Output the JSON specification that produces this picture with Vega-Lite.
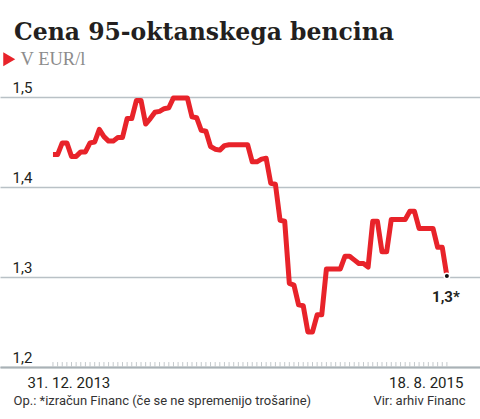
{
  "$schema": "https://vega.github.io/schema/vega-lite/v6.json",
  "width": 480,
  "height": 270,
  "autosize": {"type": "none"},
  "padding": {"left": 0, "top": 97, "right": 0, "bottom": 52},
  "background": "white",
  "title": {
    "text": "Cena 95-oktanskega bencina",
    "anchor": "start",
    "frame": "group",
    "baseline": "alphabetic",
    "offset": -13,
    "dx": 14,
    "font": "DejaVu Serif",
    "fontSize": 23.5,
    "fontWeight": "bold",
    "color": "#231f20"
  },
  "config": {
    "view": {"stroke": null},
    "legend": {"labelFont": "Liberation Serif", "labelFontSize": 18.5, "labelColor": "#8c8c8c", "labelLimit": 200}
  },
  "data": {
    "values": [
      {"date": "2013-12-31", "price": 1.436},
      {"date": "2014-01-07", "price": 1.436},
      {"date": "2014-01-14", "price": 1.449},
      {"date": "2014-01-21", "price": 1.449},
      {"date": "2014-01-28", "price": 1.434},
      {"date": "2014-02-04", "price": 1.434},
      {"date": "2014-02-11", "price": 1.439},
      {"date": "2014-02-18", "price": 1.439},
      {"date": "2014-02-25", "price": 1.449},
      {"date": "2014-03-04", "price": 1.45},
      {"date": "2014-03-11", "price": 1.464},
      {"date": "2014-03-18", "price": 1.456},
      {"date": "2014-03-25", "price": 1.451},
      {"date": "2014-04-01", "price": 1.451},
      {"date": "2014-04-08", "price": 1.455},
      {"date": "2014-04-15", "price": 1.455},
      {"date": "2014-04-22", "price": 1.476},
      {"date": "2014-04-29", "price": 1.476},
      {"date": "2014-05-06", "price": 1.496},
      {"date": "2014-05-13", "price": 1.496},
      {"date": "2014-05-20", "price": 1.47},
      {"date": "2014-05-27", "price": 1.476},
      {"date": "2014-06-03", "price": 1.483},
      {"date": "2014-06-10", "price": 1.484},
      {"date": "2014-06-17", "price": 1.487},
      {"date": "2014-06-24", "price": 1.488},
      {"date": "2014-07-01", "price": 1.499},
      {"date": "2014-07-08", "price": 1.499},
      {"date": "2014-07-15", "price": 1.499},
      {"date": "2014-07-22", "price": 1.499},
      {"date": "2014-07-29", "price": 1.478},
      {"date": "2014-08-05", "price": 1.477},
      {"date": "2014-08-12", "price": 1.463},
      {"date": "2014-08-19", "price": 1.462},
      {"date": "2014-08-26", "price": 1.445},
      {"date": "2014-09-02", "price": 1.442},
      {"date": "2014-09-09", "price": 1.441},
      {"date": "2014-09-16", "price": 1.446},
      {"date": "2014-09-23", "price": 1.447},
      {"date": "2014-09-30", "price": 1.447},
      {"date": "2014-10-07", "price": 1.447},
      {"date": "2014-10-14", "price": 1.447},
      {"date": "2014-10-21", "price": 1.447},
      {"date": "2014-10-28", "price": 1.428},
      {"date": "2014-11-04", "price": 1.428},
      {"date": "2014-11-11", "price": 1.431},
      {"date": "2014-11-18", "price": 1.432},
      {"date": "2014-11-25", "price": 1.404},
      {"date": "2014-12-02", "price": 1.403},
      {"date": "2014-12-09", "price": 1.363},
      {"date": "2014-12-16", "price": 1.362},
      {"date": "2014-12-23", "price": 1.293},
      {"date": "2014-12-30", "price": 1.291},
      {"date": "2015-01-06", "price": 1.269},
      {"date": "2015-01-13", "price": 1.268},
      {"date": "2015-01-20", "price": 1.239},
      {"date": "2015-01-27", "price": 1.239},
      {"date": "2015-02-03", "price": 1.258},
      {"date": "2015-02-10", "price": 1.258},
      {"date": "2015-02-17", "price": 1.309},
      {"date": "2015-02-24", "price": 1.309},
      {"date": "2015-03-03", "price": 1.309},
      {"date": "2015-03-10", "price": 1.309},
      {"date": "2015-03-17", "price": 1.323},
      {"date": "2015-03-24", "price": 1.323},
      {"date": "2015-03-31", "price": 1.319},
      {"date": "2015-04-07", "price": 1.315},
      {"date": "2015-04-14", "price": 1.315},
      {"date": "2015-04-21", "price": 1.311},
      {"date": "2015-04-28", "price": 1.362},
      {"date": "2015-05-05", "price": 1.362},
      {"date": "2015-05-12", "price": 1.328},
      {"date": "2015-05-19", "price": 1.328},
      {"date": "2015-05-26", "price": 1.364},
      {"date": "2015-06-02", "price": 1.364},
      {"date": "2015-06-09", "price": 1.364},
      {"date": "2015-06-16", "price": 1.364},
      {"date": "2015-06-23", "price": 1.373},
      {"date": "2015-06-30", "price": 1.373},
      {"date": "2015-07-07", "price": 1.354},
      {"date": "2015-07-14", "price": 1.354},
      {"date": "2015-07-21", "price": 1.354},
      {"date": "2015-07-28", "price": 1.354},
      {"date": "2015-08-04", "price": 1.333},
      {"date": "2015-08-11", "price": 1.333},
      {"date": "2015-08-18", "price": 1.301}
    ]
  },
  "layer": [
    {
      "mark": {"type": "rule", "color": "#c4c9cc", "strokeWidth": 1},
      "encoding": {
        "x": {"field": "date", "type": "temporal"},
        "y": {"datum": 1.2},
        "y2": {"datum": 1.2055}
      }
    },
    {
      "mark": {"type": "line", "strokeWidth": 5, "strokeJoin": "round"},
      "encoding": {
        "x": {
          "field": "date",
          "type": "temporal",
          "scale": {
            "type": "utc",
            "domain": [
              {"year": 2013, "month": 10, "date": 12, "utc": true},
              {"year": 2015, "month": 10, "date": 7, "utc": true}
            ]
          },
          "axis": {
            "values": [
              {"year": 2013, "month": 12, "date": 31, "utc": true},
              {"year": 2015, "month": 8, "date": 18, "utc": true}
            ],
            "format": "%-d. %-m. %Y",
            "grid": false,
            "ticks": false,
            "tickSize": 0,
            "domain": true,
            "domainColor": "#a9b1b6",
            "domainWidth": 2,
            "labelFont": "Roboto",
            "labelFontSize": 15,
            "labelColor": "#231f20",
            "labelBaseline": "alphabetic",
            "labelPadding": 20,
            "labelFlush": false,
            "labelOverlap": false,
            "labelAlign": {"condition": {"test": "datum.value < 1420070400000", "value": "left"}, "value": "right"},
            "labelOffset": {"condition": {"test": "datum.value < 1420070400000", "value": -26}, "value": 16},
            "title": "Op.: *izračun Financ (če se ne spremenijo trošarine)",
            "titleX": 13,
            "titleY": 37,
            "titleAlign": "left",
            "titleAnchor": "start",
            "titleBaseline": "alphabetic",
            "titleFont": "Roboto",
            "titleFontSize": 13,
            "titleFontWeight": "normal",
            "titleColor": "#333333"
          }
        },
        "y": {
          "field": "price",
          "type": "quantitative",
          "scale": {"domain": [1.2, 1.5], "nice": false, "zero": false},
          "axis": {
            "values": [1.2, 1.3, 1.4, 1.5],
            "grid": true,
            "gridColor": "#b9c1c6",
            "gridWidth": 1.5,
            "domain": false,
            "ticks": false,
            "tickSize": 0,
            "labelAlign": "left",
            "labelBaseline": "alphabetic",
            "labelPadding": -12,
            "labelOffset": -5,
            "labelFont": "Roboto",
            "labelFontSize": 15,
            "labelColor": "#231f20",
            "labelExpr": "replace(format(datum.value, '.1f'), '.', ',')",
            "title": "Vir: arhiv Financ",
            "titleAngle": 0,
            "titleX": 465,
            "titleY": 307,
            "titleAlign": "right",
            "titleBaseline": "alphabetic",
            "titleFont": "Roboto",
            "titleFontSize": 13,
            "titleFontWeight": "normal",
            "titleColor": "#333333"
          }
        },
        "color": {
          "datum": "V EUR/l",
          "scale": {"range": ["#e8232a"]},
          "legend": {
            "orient": "none",
            "legendX": 0,
            "legendY": -47,
            "title": null,
            "padding": 0,
            "symbolType": "triangle-right",
            "symbolSize": 190,
            "symbolStrokeWidth": 0,
            "symbolFillColor": "#e8232a",
            "labelFont": "Liberation Serif",
            "labelFontSize": 18.5,
            "labelColor": "#8c8c8c",
            "labelOffset": 2,
            "encode": {
              "symbols": {"update": {"fill": {"value": "#e8232a"}, "strokeWidth": {"value": 0}}},
              "labels": {"update": {"fontSize": {"value": 18.5}, "font": {"value": "Liberation Serif"}}}
            }
          }
        }
      }
    },
    {
      "mark": {"type": "point", "filled": true, "fill": "#111111", "stroke": "white", "strokeWidth": 1.5, "size": 30, "opacity": 1},
      "encoding": {
        "x": {"aggregate": "max", "field": "date", "type": "temporal"},
        "y": {"aggregate": {"argmax": "date"}, "field": "price", "type": "quantitative"}
      }
    },
    {
      "mark": {"type": "text", "font": "Roboto", "fontSize": 15, "fontWeight": "bold", "color": "#231f20", "align": "center", "baseline": "alphabetic", "dx": -1, "dy": 26},
      "encoding": {
        "x": {"aggregate": "max", "field": "date", "type": "temporal"},
        "y": {"aggregate": {"argmax": "date"}, "field": "price", "type": "quantitative"},
        "text": {"value": "1,3*"}
      }
    }
  ]
}
